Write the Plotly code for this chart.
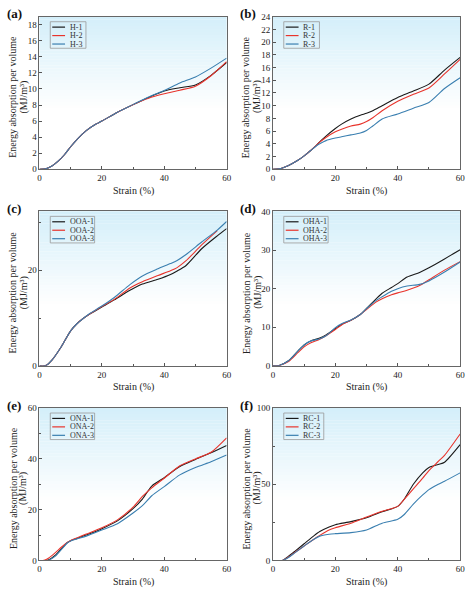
import plotly.graph_objects as go
from plotly.subplots import make_subplots

W, H = 474, 594

# ---------------- data ----------------
strain_a = [0, 2, 4, 6, 8, 10, 12, 15, 18, 20, 25, 30, 35, 40, 45, 50, 55, 60]
h1 = [0, 0.05, 0.4, 1.0, 1.8, 2.8, 3.7, 4.8, 5.6, 6.0, 7.1, 8.05, 8.95, 9.75, 10.15, 10.5, 11.7, 13.3]
h2 = [0, 0.05, 0.4, 1.0, 1.8, 2.8, 3.7, 4.8, 5.6, 6.0, 7.1, 8.05, 8.85, 9.4, 9.85, 10.35, 11.65, 13.4]
h3 = [0, 0.05, 0.4, 1.0, 1.8, 2.8, 3.7, 4.8, 5.6, 6.0, 7.1, 8.05, 9.0, 9.8, 10.75, 11.5, 12.6, 13.85]

strain_b = [0, 2, 5, 8, 10, 12, 14, 15, 17, 20, 22, 25, 28, 30, 32, 35, 40, 45, 50, 55, 60]
r1 = [0, 0.05, 0.6, 1.4, 2.1, 2.9, 3.8, 4.3, 5.2, 6.4, 7.1, 7.9, 8.5, 8.8, 9.2, 10.0, 11.3, 12.3, 13.4, 15.6, 17.6]
r2 = [0, 0.05, 0.6, 1.4, 2.1, 2.9, 3.8, 4.25, 5.0, 5.9, 6.3, 6.8, 7.1, 7.5, 8.1, 9.2, 10.7, 11.8, 12.8, 15.0, 17.3]
r3 = [0, 0.05, 0.6, 1.4, 2.1, 2.9, 3.7, 4.0, 4.5, 4.9, 5.1, 5.4, 5.7, 6.1, 6.8, 7.9, 8.7, 9.6, 10.5, 12.7, 14.4]

strain_c = [0, 2, 4, 7, 10, 12, 14, 16, 20, 24, 29, 33, 38, 42, 44, 47, 52, 57, 60]
ooa1 = [0, 0.05, 1.2, 4.0, 7.3, 8.8, 9.9, 10.8, 12.3, 13.8, 15.8, 17.1, 18.1, 19.1, 19.8, 21.0, 24.5, 27.2, 28.7]
ooa2 = [0, 0.05, 1.2, 4.0, 7.3, 8.8, 9.9, 10.8, 12.4, 13.9, 16.3, 17.6, 18.9, 19.9, 20.5, 22.0, 25.3, 28.3, None]
ooa3 = [0, 0.05, 1.2, 4.0, 7.3, 8.8, 9.9, 10.9, 12.5, 14.3, 17.0, 18.8, 20.3, 21.4, 22.0, 23.3, 25.9, 28.4, 30.2]

strain_d = [0, 2, 5, 8, 10, 12, 15, 17, 20, 22, 25, 28, 30, 33, 35, 38, 40, 43, 47, 50, 55, 60]
oha1 = [0, 0.1, 1.3, 3.8, 5.4, 6.4, 7.2, 8.0, 9.6, 10.7, 11.8, 13.3, 14.9, 17.3, 18.8, 20.3, 21.3, 23.0, 24.2, 25.4, 27.7, 30.1]
oha2 = [0, 0.1, 1.1, 3.4, 4.9, 5.9, 6.9, 7.8, 9.4, 10.6, 11.8, 13.3, 14.6, 16.5, 17.4, 18.4, 18.9, 19.6, 20.8, 22.3, 24.8, 27.0]
oha3 = [0, 0.1, 1.3, 3.8, 5.4, 6.4, 7.0, 7.8, 9.9, 10.9, 11.9, 13.3, 14.8, 16.9, 17.9, 19.3, 20.0, 20.7, 21.1, 22.0, 24.3, 26.9]

strain_e = [0, 1.5, 3, 5, 7, 9, 10, 12, 15, 20, 25, 30, 33, 36, 40, 45, 50, 55, 60]
ona1 = [0, 0, 0.3, 2.0, 4.6, 7.1, 7.8, 8.7, 10.0, 12.5, 15.6, 20.4, 24.2, 29.3, 32.6, 37.0, 39.8, 42.4, 45.3]
ona2 = [0, 0.1, 1.0, 3.0, 5.2, 7.2, 7.9, 8.9, 10.4, 12.9, 16.0, 21.0, 25.2, 28.6, 32.4, 37.3, 40.0, 42.6, 48.3]
ona3 = [0, 0, 0.1, 1.6, 4.3, 7.0, 7.7, 8.5, 9.6, 12.0, 14.5, 18.7, 21.6, 25.5, 29.1, 33.7, 36.6, 38.9, 41.5]

strain_f = [0, 3, 5, 7, 10, 13, 15, 18, 20, 25, 30, 35, 40, 42, 45, 48, 50, 53, 55, 60]
rc1 = [0, 0, 2.8, 6.0, 11.0, 16.0, 19.0, 22.0, 23.5, 25.5, 28.0, 32.0, 35.5, 40.0, 50.0, 57.5, 61.0, 63.0, 64.5, 76.0]
rc2 = [0, 0, 2.3, 5.2, 9.5, 13.8, 16.5, 20.0, 21.5, 24.5, 28.5, 32.3, 35.5, 40.0, 47.0, 54.0, 59.0, 65.0, 69.0, 83.0]
rc3 = [0, 0, 2.0, 5.0, 9.5, 13.8, 16.0, 17.2, 17.6, 18.3, 20.0, 24.5, 27.0, 30.0, 37.0, 43.0, 46.5, 50.0, 52.0, 57.5]

panel_labels = ["(a)", "(b)", "(c)", "(d)", "(e)", "(f)"]
series_names = [["H-1", "H-2", "H-3"], ["R-1", "R-2", "R-3"], ["OOA-1", "OOA-2", "OOA-3"],
                ["OHA-1", "OHA-2", "OHA-3"], ["ONA-1", "ONA-2", "ONA-3"], ["RC-1", "RC-2", "RC-3"]]
panel_data = [(strain_a, [h1, h2, h3]), (strain_b, [r1, r2, r3]), (strain_c, [ooa1, ooa2, ooa3]),
              (strain_d, [oha1, oha2, oha3]), (strain_e, [ona1, ona2, ona3]), (strain_f, [rc1, rc2, rc3])]
y_ranges = [[0, 19], [0, 24], [0, 32.3], [0, 40], [0, 60], [0, 100]]
y_dticks = [2, 2, 20, 10, 20, 50]
y_minor = [None, None, 10, None, 10, 25]
x_range = [0, 60]
x_title = "Strain (%)"
y_title_1 = "Energy absorption per volume"
y_title_2 = "(MJ/m³)"

colors = ["#1a1a1a", "#e8342c", "#3a7fb0"]
FONT = "Liberation Serif, Times New Roman, serif"

# ---------------- layout geometry (pixels) ----------------
col_px = [(38, 228), (275, 465)]
row_px = [(12, 167), (210, 367), (410, 565)]

fig = make_subplots(rows=3, cols=2)

for i, (xs, ys_list) in enumerate(panel_data):
    r, c = i // 2 + 1, i % 2 + 1
    for j, ys in enumerate(ys_list):
        fig.add_trace(go.Scatter(x=xs, y=ys, mode="lines", name=series_names[i][j],
                                 line=dict(color=colors[j], width=1.1, shape="spline", smoothing=0.7),
                                 showlegend=False),
                      row=r, col=c)


def px2x(p):
    return p / W


def px2y(p):
    return 1 - p / H


annotations = []
shapes = []

for i in range(6):
    r, c = i // 2, i % 2
    (x0, x1), (y0, y1) = col_px[c], row_px[r]
    ax = "" if i == 0 else str(i + 1)
    fig.layout[f"xaxis{ax}"].update(
        domain=[px2x(x0), px2x(x1)], range=x_range, dtick=20, tick0=0,
        ticks="inside", ticklen=3, tickcolor="#555", showline=True, mirror=True,
        linecolor="#666", linewidth=1, showgrid=False, zeroline=False,
        tickfont=dict(family=FONT, size=9, color="#222"),
        minor=dict(dtick=10, ticks="inside", ticklen=2, tickcolor="#555"))
    ymin = dict(dtick=y_minor[i], ticks="inside", ticklen=2, tickcolor="#555") if y_minor[i] else dict(ticks="")
    fig.layout[f"yaxis{ax}"].update(
        domain=[px2y(y1), px2y(y0)], range=y_ranges[i], dtick=y_dticks[i], tick0=0,
        ticks="inside", ticklen=3, tickcolor="#555", showline=True, mirror=True,
        linecolor="#666", linewidth=1, showgrid=False, zeroline=False,
        tickfont=dict(family=FONT, size=9, color="#222"), minor=ymin)

    # gradient background (light blue at top fading to white)
    nb = 30
    for k in range(nb):
        f0 = 0.40 + (1 - 0.40) * k / nb
        f1 = 0.40 + (1 - 0.40) * (k + 1) / nb
        t = (k + 0.5) / nb
        rr = int(255 + (212 - 255) * t)
        gg = int(255 + (239 - 255) * t)
        bb = int(255 + (250 - 255) * t)
        shapes.append(dict(type="rect", xref=f"x{ax} domain", yref=f"y{ax} domain",
                           x0=0, x1=1, y0=f0, y1=f1 + 0.001, layer="below",
                           line=dict(width=0), fillcolor=f"rgb({rr},{gg},{bb})"))

    # panel label
    annotations.append(dict(text=f"<b>{panel_labels[i]}</b>", xref="paper", yref="paper",
                            x=px2x(x0 - 35), y=px2y(y0 - 3), xanchor="left", yanchor="middle",
                            showarrow=False, font=dict(family=FONT, size=13, color="#111")))
    # x title
    annotations.append(dict(text=x_title, xref="paper", yref="paper",
                            x=px2x((x0 + x1) / 2), y=px2y(y1 + 22), xanchor="center", yanchor="middle",
                            showarrow=False, font=dict(family=FONT, size=10, color="#222")))
    # y title (two lines)
    ymid = (y0 + y1) / 2 + 4
    annotations.append(dict(text=y_title_1, xref="paper", yref="paper", textangle=-90,
                            x=px2x(x0 - 27), y=px2y(ymid), xanchor="center", yanchor="middle",
                            showarrow=False, font=dict(family=FONT, size=10, color="#222")))
    annotations.append(dict(text=y_title_2, xref="paper", yref="paper", textangle=-90,
                            x=px2x(x0 - 16), y=px2y(ymid), xanchor="center", yanchor="middle",
                            showarrow=False, font=dict(family=FONT, size=10, color="#222")))

    # compact legend box (drawn in the upper-left corner of each panel)
    names = series_names[i]
    bl, bt = x0 + 11, y0 + 5
    bw = 23 + 4.4 * max(len(n) for n in names)
    bh = 27
    shapes.append(dict(type="rect", xref="paper", yref="paper",
                       x0=px2x(bl), x1=px2x(bl + bw), y0=px2y(bt + bh), y1=px2y(bt),
                       line=dict(color="#999", width=0.8), fillcolor="rgba(0,0,0,0)"))
    for k, n in enumerate(names):
        yy = bt + 5.5 + 8.6 * k
        shapes.append(dict(type="line", xref="paper", yref="paper",
                           x0=px2x(bl + 2), x1=px2x(bl + 15), y0=px2y(yy), y1=px2y(yy),
                           line=dict(color=colors[k], width=1.2)))
        annotations.append(dict(text=n, xref="paper", yref="paper",
                                x=px2x(bl + 19), y=px2y(yy), xanchor="left", yanchor="middle",
                                showarrow=False, borderpad=0,
                                font=dict(family=FONT, size=8, color="#333")))

fig.update_layout(width=W, height=H, margin=dict(l=0, r=0, t=0, b=0),
                  paper_bgcolor="white", plot_bgcolor="white", showlegend=False,
                  annotations=annotations, shapes=shapes)

fig.write_html("out.html", config={"displayModeBar": False},
               post_script="document.body.style.margin='0';")
